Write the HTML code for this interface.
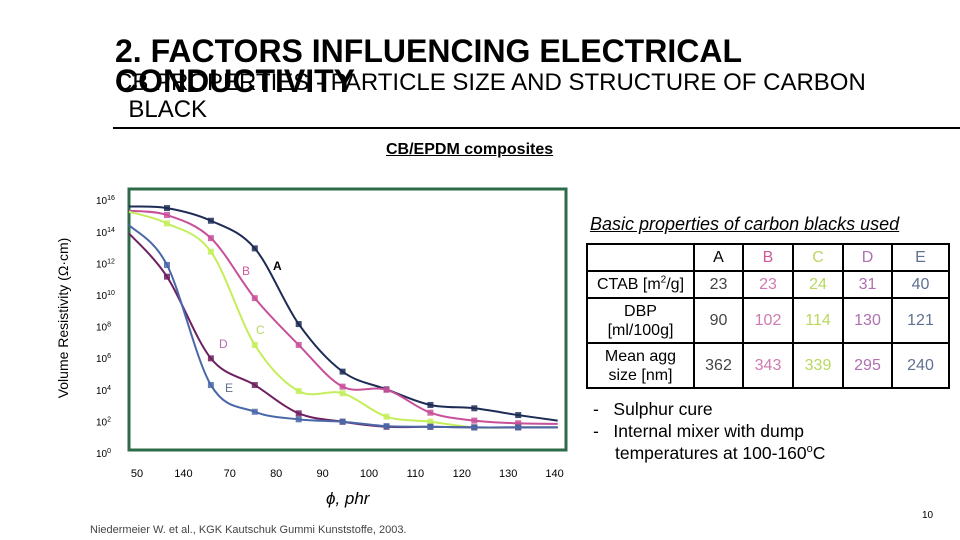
<!DOCTYPE html>
<html><head><meta charset="utf-8"><style>
body{margin:0;width:960px;height:540px;background:#fff;position:relative;overflow:hidden;font-family:"Liberation Sans",Arial,sans-serif}
.abs{position:absolute;white-space:nowrap}
table{border-collapse:collapse;position:absolute;left:586px;top:243px;font-size:16px}
td{border:2px solid #000;text-align:center;padding:0;line-height:19px}
sup{line-height:0}
</style></head><body>
<div class="abs" style="left:115px;top:36px;font-size:32px;font-weight:bold;line-height:30px">2. FACTORS INFLUENCING ELECTRICAL<br>CONDUCTIVITY</div>
<div class="abs" style="left:115px;top:69px;font-size:24px;line-height:27px">CB PROPERTIES - PARTICLE SIZE AND STRUCTURE OF CARBON<br>&nbsp;&nbsp;BLACK</div>
<div class="abs" style="left:113px;top:127px;width:847px;height:2px;background:#000"></div>
<div class="abs" style="left:386px;top:141px;font-size:16px;font-weight:bold;text-decoration:underline">CB/EPDM composites</div>

<svg class="abs" style="left:0;top:0" width="960" height="540" id="chart"></svg>

<div class="abs" style="left:590px;top:214px;font-size:18px;font-style:italic;text-decoration:underline">Basic properties of carbon blacks used</div>
<table>
<tr style="height:27px"><td style="width:105px"></td><td style="width:47px">A</td><td style="width:48px;color:#d05a9a">B</td><td style="width:48px;color:#b8d860">C</td><td style="width:47px;color:#b070b0">D</td><td style="width:55px;color:#607090">E</td></tr>
<tr style="height:27px"><td>CTAB [m<sup style="font-size:10px">2</sup>/g]</td><td style="color:#444">23</td><td style="color:#d07ab0">23</td><td style="color:#b8d860">24</td><td style="color:#b070b0">31</td><td style="color:#607090">40</td></tr>
<tr style="height:45px"><td>DBP<br>[ml/100g]</td><td style="color:#444">90</td><td style="color:#d07ab0">102</td><td style="color:#b8d860">114</td><td style="color:#b070b0">130</td><td style="color:#607090">121</td></tr>
<tr style="height:45px"><td>Mean agg<br>size [nm]</td><td style="color:#444">362</td><td style="color:#d07ab0">343</td><td style="color:#b8d860">339</td><td style="color:#b070b0">295</td><td style="color:#607090">240</td></tr>
</table>
<div class="abs" style="left:593px;top:398px;font-size:17.5px;line-height:22px">-&nbsp;&nbsp;&nbsp;Sulphur cure<br>-&nbsp;&nbsp;&nbsp;Internal mixer with dump<br><span style="padding-left:22px">temperatures at 100-160<sup style="font-size:11px">o</sup>C</span></div>
<div class="abs" style="left:326px;top:489px;font-size:17px;font-style:italic">ϕ, phr</div>
<div class="abs" style="left:90px;top:524px;font-size:11px;color:#444">Niedermeier W. et al., KGK Kautschuk Gummi Kunststoffe, 2003.</div>
<div class="abs" style="left:922px;top:510px;font-size:10px">10</div>
<script>
const xTickLabels=["50","140","70","80","90","100","110","120","130","140"];
const yTickExps=[0,2,4,6,8,10,12,14,16];
const xIdx=[0.1,1,2,3,4,5,6,7,8,9,9.9];
const seriesA=[15.6,15.5,14.7,12.95,8.16,5.15,4.03,3.04,2.83,2.4,2.05];
const seriesB=[15.33,15.06,13.6,9.8,6.84,4.2,4.0,2.55,2.05,1.88,1.84];
const seriesC=[15.27,14.53,12.74,6.84,3.92,3.78,2.3,1.98,1.62,1.62,1.62];
const seriesD=[13.9,11.16,5.99,4.3,2.51,1.98,1.66,1.66,1.62,1.62,1.62];
const seriesE=[14.43,11.9,4.3,2.61,2.13,1.98,1.7,1.66,1.62,1.62,1.62];
const NS="http://www.w3.org/2000/svg";
const svg=document.getElementById('chart');
const X=i=>167+(i-1)*43.9;
const Y=e=>453-e*15.8;
const XT=i=>137+i*46.4;
function mk(t,a,p){const el=document.createElementNS(NS,t);for(const k in a)el.setAttribute(k,a[k]);(p||svg).appendChild(el);return el;}
const frame=mk('rect',{x:129,y:189,width:437,height:261,fill:'none',stroke:'#2e6b48','stroke-width':3});


yTickExps.forEach(e=>{
  const t=mk('text',{x:96,y:Y(e)+4,'font-size':10,'font-family':'Liberation Sans'});
  
  
  t.textContent='10';
  const s=mk('tspan',{dy:-4,'font-size':7},t);s.textContent=String(e);
});
xTickLabels.forEach((l,i)=>{
  const t=mk('text',{x:XT(i),y:477,'font-size':11,'font-family':'Liberation Sans','text-anchor':'middle'});
  
  
  t.textContent=l;
});
const yt=mk('text',{transform:'translate(68,318) rotate(-90)','font-size':14,'font-family':'Liberation Sans','text-anchor':'middle'});


yt.textContent='Volume Resistivity (Ω·cm)';
function path(vals){
  const p=vals.map((v,i)=>[Math.max(129,X(xIdx[i])),Y(v)]);
  let d='M'+p[0][0]+','+p[0][1];
  for(let i=0;i<p.length-1;i++){
    const p0=p[Math.max(0,i-1)],p1=p[i],p2=p[i+1],p3=p[Math.min(p.length-1,i+2)];
    const c1=[p1[0]+(p2[0]-p0[0])/6,p1[1]+(p2[1]-p0[1])/6];
    const c2=[p2[0]-(p3[0]-p1[0])/6,p2[1]-(p3[1]-p1[1])/6];
    d+=` C${c1[0]},${c1[1]} ${c2[0]},${c2[1]} ${p2[0]},${p2[1]}`;
  }
  return {d,p};
}
const series=[["A",seriesA,"#1d2b55"],["B",seriesB,"#c8509a"],["C",seriesC,"#c4ee5a"],["D",seriesD,"#6e2060"],["E",seriesE,"#4a68a8"]];
series.forEach(([n,v,c])=>{
  const r=path(v);
  const l=mk('path',{d:r.d,fill:'none',stroke:c,'stroke-width':2});
  
  
  r.p.slice(1,-1).forEach(q=>{
    const m=mk('rect',{x:q[0]-3,y:q[1]-3,width:6,height:6,fill:c,opacity:0.85});
    
    
  });
});
[["A",273,270,"#000"],["B",242,275,"#d05a9a"],["C",256,334,"#b8d860"],["D",219,348,"#b070b0"],["E",225,392,"#607090"]].forEach(([n,x,y,c])=>{
  const t=mk('text',{x:x,y:y,'font-size':12,'font-family':'Liberation Sans',fill:c,'font-weight':n=='A'?'bold':'normal'});
  
  
  t.textContent=n;
});
</script>
</body></html>
